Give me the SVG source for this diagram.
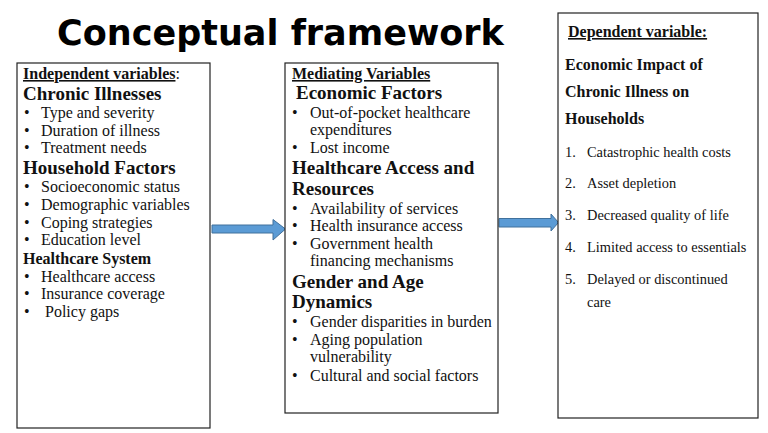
<svg xmlns="http://www.w3.org/2000/svg" width="768" height="433" viewBox="0 0 768 433">
<style>
.box{fill:#fff;stroke:#222;stroke-width:1.2}
.t{font-family:"Liberation Serif","Times New Roman",serif;fill:#111}
.h{font-weight:bold;font-size:19px}
.h3{font-weight:bold;font-size:16px}
.u{font-weight:bold;font-size:16px;text-decoration:underline}
.b{font-size:16px}
.r{font-size:14.4px}
.arrow{fill:#5b9bd5;stroke:#41719c;stroke-width:1}
</style>
<rect width="768" height="433" fill="#fff"/>
<text x="57" y="45" font-family="DejaVu Sans, sans-serif" font-weight="bold" font-size="35" fill="#000">Conceptual framework</text>

<g id="connectors">
<path class="arrow" d="M212,225 H273 V219.5 L285.5,229 L273,240 V233 H212 Z"/>
<path class="arrow" d="M499,218.5 H551 V214 L558.5,222.5 L551,231 V227 H499 Z"/>
</g>

<g id="independent">
<rect class="box" x="17" y="63" width="193" height="365"/>
<text class="t" x="23" y="79"><tspan class="u">Independent variables</tspan><tspan font-size="16px">:</tspan></text>
<text class="t h" x="23" y="100">Chronic Illnesses</text>
<g class="t b">
<text x="24" y="118">•</text><text x="41" y="118">Type and severity</text>
<text x="24" y="136">•</text><text x="41" y="136">Duration of illness</text>
<text x="24" y="153">•</text><text x="41" y="153">Treatment needs</text>
</g>
<text class="t h" x="23" y="174">Household Factors</text>
<g class="t b">
<text x="24" y="192">•</text><text x="41" y="192">Socioeconomic status</text>
<text x="24" y="210">•</text><text x="41" y="210">Demographic variables</text>
<text x="24" y="228">•</text><text x="41" y="228">Coping strategies</text>
<text x="24" y="245">•</text><text x="41" y="245">Education level</text>
</g>
<text class="t h3" x="23" y="264">Healthcare System</text>
<g class="t b">
<text x="24" y="282">•</text><text x="41" y="282">Healthcare access</text>
<text x="24" y="299">•</text><text x="41" y="299">Insurance coverage</text>
<text x="24" y="317">•</text><text x="45" y="317">Policy gaps</text>
</g>
</g>

<g id="mediating">
<rect class="box" x="285" y="63" width="213" height="350"/>
<text class="t u" x="292" y="79">Mediating Variables</text>
<text class="t h" x="296" y="99">Economic Factors</text>
<g class="t b">
<text x="292" y="118">•</text><text x="310" y="118">Out-of-pocket healthcare</text>
<text x="310" y="135">expenditures</text>
<text x="292" y="153">•</text><text x="310" y="153">Lost income</text>
</g>
<text class="t h" x="292" y="174">Healthcare Access and</text>
<text class="t h" x="292" y="195">Resources</text>
<g class="t b">
<text x="292" y="214">•</text><text x="310" y="214">Availability of services</text>
<text x="292" y="231">•</text><text x="310" y="231">Health insurance access</text>
<text x="292" y="249">•</text><text x="310" y="249">Government health</text>
<text x="310" y="266">financing mechanisms</text>
</g>
<text class="t h" x="292" y="288">Gender and Age</text>
<text class="t h" x="292" y="308">Dynamics</text>
<g class="t b">
<text x="292" y="327">•</text><text x="310" y="327">Gender disparities in burden</text>
<text x="292" y="345">•</text><text x="310" y="345">Aging population</text>
<text x="310" y="362">vulnerability</text>
<text x="292" y="381">•</text><text x="310" y="381">Cultural and social factors</text>
</g>
</g>

<g id="dependent">
<rect class="box" x="558" y="13" width="200" height="405"/>
<text class="t u" x="568" y="37">Dependent variable:</text>
<text class="t h3" x="565" y="70">Economic Impact of</text>
<text class="t h3" x="565" y="97">Chronic Illness on</text>
<text class="t h3" x="565" y="124">Households</text>
<g class="t r">
<text x="565" y="157">1.</text><text x="587" y="157">Catastrophic health costs</text>
<text x="565" y="188">2.</text><text x="587" y="188">Asset depletion</text>
<text x="565" y="220">3.</text><text x="587" y="220">Decreased quality of life</text>
<text x="565" y="252">4.</text><text x="587" y="252">Limited access to essentials</text>
<text x="565" y="284">5.</text><text x="587" y="284">Delayed or discontinued</text>
<text x="587" y="307">care</text>
</g>
</g>
</svg>
